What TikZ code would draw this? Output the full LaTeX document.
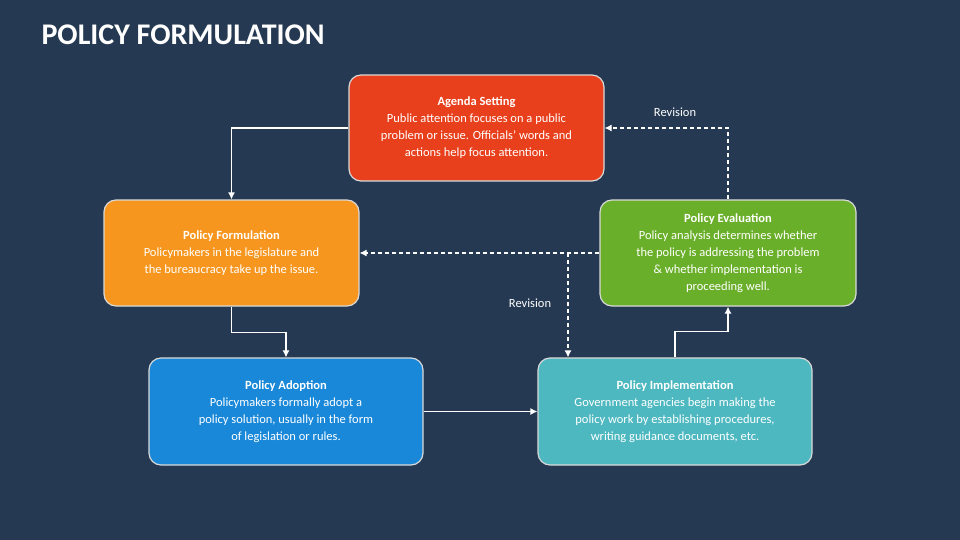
\documentclass[tikz,border=0pt]{standalone}
\usepackage{fontspec}
\setmainfont{Carlito}
\usetikzlibrary{arrows.meta}
\definecolor{bg}{HTML}{253A52}
\definecolor{cred}{HTML}{E8401C}
\definecolor{corange}{HTML}{F7961E}
\definecolor{cgreen}{HTML}{6AAF2A}
\definecolor{cblue}{HTML}{1A88D8}
\definecolor{cteal}{HTML}{4DB8C0}
\begin{document}
\begin{tikzpicture}[x=1pt,y=-1pt,
  box/.style={draw=white!85!black,line width=1.2pt,rounded corners=12pt,text=white,align=center,font=\fontsize{12.5}{17}\selectfont,inner sep=0pt},
  con/.style={draw=white,line width=1.2pt,-{Latex[length=7pt,width=7pt]}},
  dcon/.style={con,dash pattern=on 4pt off 3pt},
  lab/.style={text=white,font=\fontsize{12.5}{15}\selectfont}]
\fill[bg] (0,0) rectangle (960,540);
\useasboundingbox (0,0) rectangle (960,540);
\node[anchor=west,text=white,font=\fontsize{30}{34}\bfseries\selectfont] (title) at (38,35) {POLICY FORMULATION};
\node[box,fill=cred,minimum width=255pt,minimum height=106pt] (as) at (476.5,128) {\textbf{Agenda Setting}\\Public attention focuses on a public\\problem or issue. Officials’ words and\\actions help focus attention.};
\node[box,fill=corange,minimum width=255pt,minimum height=106pt] (pf) at (231.5,253) {\textbf{Policy Formulation}\\Policymakers in the legislature and\\the bureaucracy take up the issue.};
\node[box,fill=cgreen,minimum width=256pt,minimum height=106pt] (pe) at (728,253) {\textbf{Policy Evaluation}\\Policy analysis determines whether\\the policy is addressing the problem\\\& whether implementation is\\proceeding well.};
\node[box,fill=cblue,minimum width=274pt,minimum height=107pt] (pa) at (286,411.5) {\textbf{Policy Adoption}\\Policymakers formally adopt a\\policy solution, usually in the form\\of legislation or rules.};
\node[box,fill=cteal,minimum width=274pt,minimum height=107pt] (pi) at (675,411.5) {\textbf{Policy Implementation}\\Government agencies begin making the\\policy work by establishing procedures,\\writing guidance documents, etc.};
\draw[con] (as.west) -| (pf.north);
\draw[con] (pf.south) -- ++(0,26) -| (pa.north);
\draw[con] (pa.east) -- (pi.west);
\draw[con] (pi.north) -- ++(0,-26) -| (pe.south);
\draw[dcon] (pe.north) |- (as.east);
\draw[dcon] (pe.west) -- (pf.east);
\coordinate (br) at (568,253);
\draw[dcon] (br) -- (br |- pi.north);
\node[lab] (r1) at (675,112) {Revision};
\node[lab] (r2) at (530,303) {Revision};
\end{tikzpicture}
\end{document}
